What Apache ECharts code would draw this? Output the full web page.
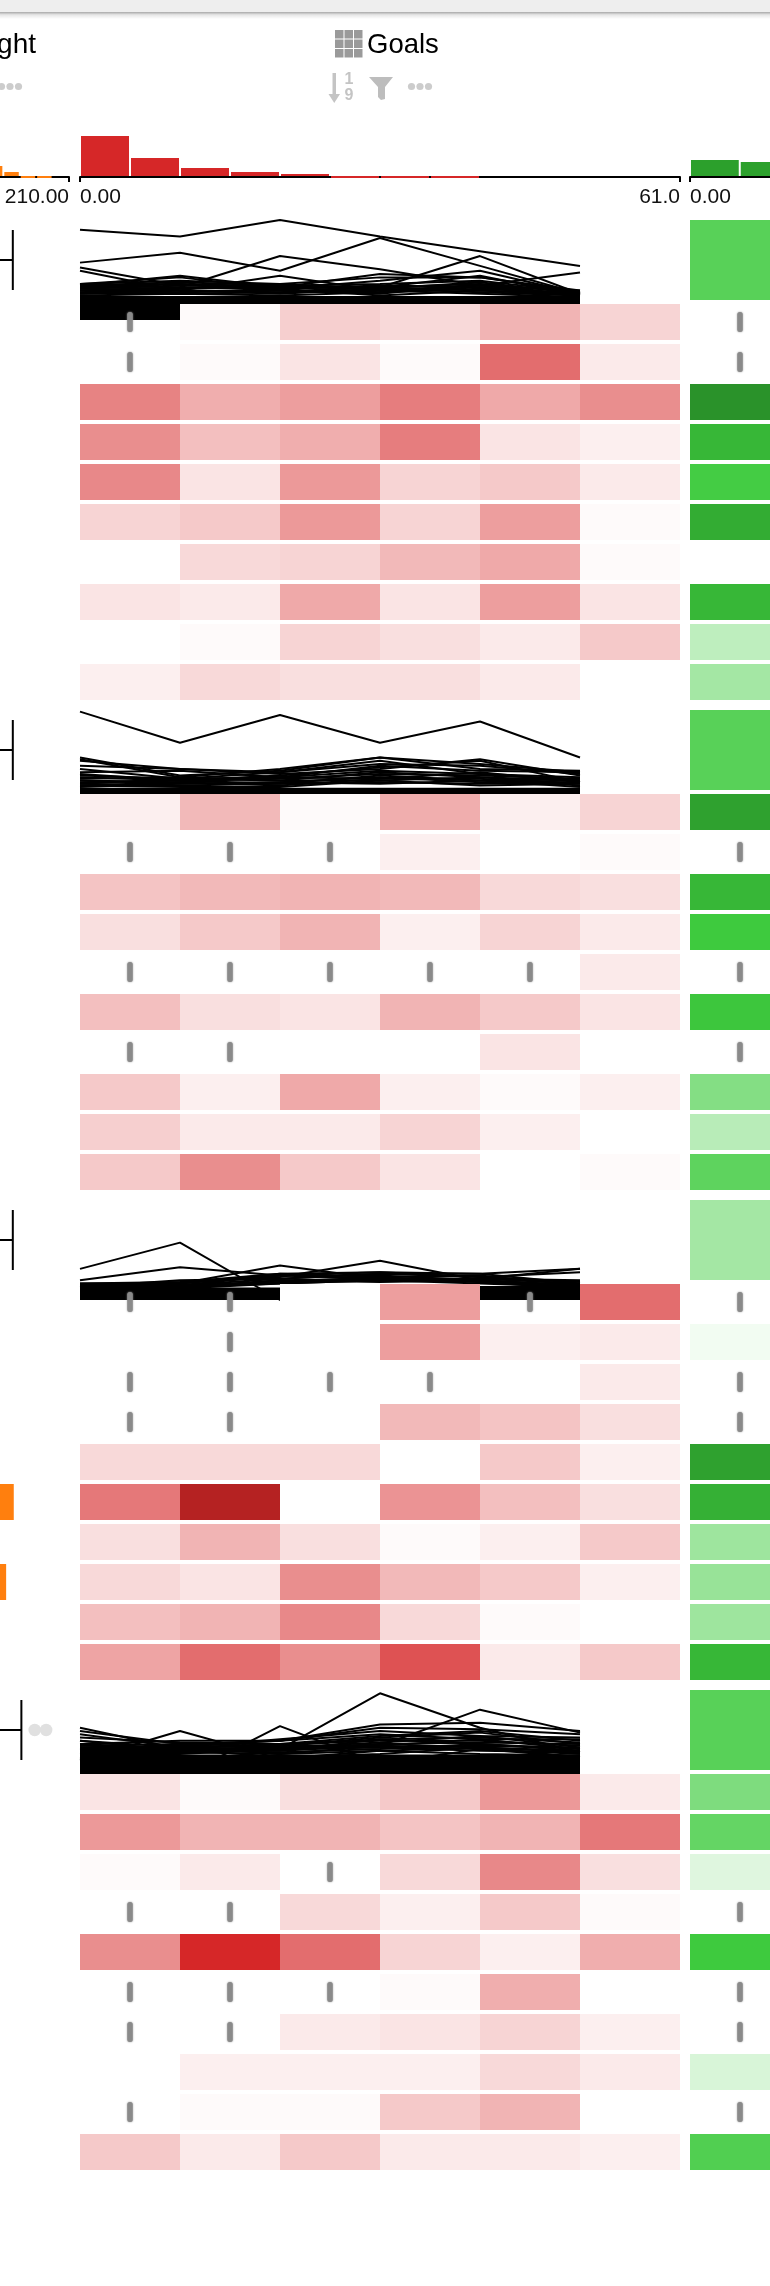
<!DOCTYPE html>
<html>
<head>
<meta charset="utf-8">
<style>html,body{margin:0;padding:0;background:#fff;overflow:hidden;width:770px;height:2286px}#c{position:absolute;left:-131px;top:0;width:1421px;height:2286px}</style>
<script src="https://cdn.jsdelivr.net/npm/echarts@6/dist/echarts.min.js"></script>
</head>
<body>
<div id="c"></div>
<script>
// ---------- data ----------
const columnTitles = ['Height', 'Goals'];
const heightTicks = ['0.00', '210.00'];
const goalTicks = ['0.00', '61.0'];
const greenTicks = ['0.00', ''];

const heightHist = [0, 0, 2, 6, 16, 30, 40, 12, 6, 2, 2, 0];
const goalHist = [42, 20, 10, 6, 4, 2, 2, 2, 0, 0, 0, 0];
const greenHist = [18, 16, 12, 8, 4, 2, 2, 0, 0, 0, 0, 0];

const goals1 = [
  [null, 1, 9, 7, 14, 8], [null, 1, 5, 1, 27, 4], [23, 15, 18, 24, 16, 21], [21, 12, 15, 24, 5, 3], [22, 5, 19, 8, 10, 4],
  [8, 10, 19, 8, 18, 1], [0, 7, 8, 13, 16, 1], [5, 4, 16, 5, 18, 5], [0, 1, 8, 6, 4, 10], [3, 7, 6, 6, 4, 0]
];
const goals2 = [
  [3, 13, 1, 15, 3, 8], [null, null, null, 3, 0, 1], [11, 13, 14, 13, 7, 6], [6, 10, 14, 3, 8, 4], [null, null, null, null, null, 4],
  [12, 6, 5, 14, 10, 5], [null, null, 0, 0, 5, 0], [10, 3, 16, 3, 1, 3], [9, 4, 4, 8, 3, 0], [10, 21, 10, 5, 0, 1]
];
const goals3 = [
  [null, null, 0, 18, null, 27], [0, null, 0, 18, 3, 4], [null, null, null, null, 0, 4], [null, null, 0, 13, 11, 6], [7, 7, 7, 0, 10, 3],
  [25, 48, 0, 20, 12, 6], [6, 14, 6, 1, 3, 10], [7, 5, 21, 13, 10, 3], [12, 14, 22, 7, 1, 0], [17, 27, 21, 32, 4, 10]
];
const goals4 = [
  [5, 1, 6, 10, 19, 4], [19, 14, 14, 11, 14, 25], [1, 4, null, 7, 22, 6], [null, null, 7, 3, 10, 1], [21, 40, 27, 8, 3, 15],
  [null, null, null, 1, 15, 0], [null, null, 4, 5, 8, 3], [0, 3, 3, 3, 7, 4], [null, 1, 1, 10, 14, 0], [10, 4, 10, 4, 4, 3]
];

const greenTop = [26, 26, 14, 26];
const green1 = [null, null, 45, 35, 29, 38, 0, 35, 10, 14];
const green2 = [41, null, 35, 30, null, 31, null, 19, 11, 25];
const green3 = [null, 2, null, null, 41, 37, 15, 16, 15, 35];
const green4 = [20, 24, 5, null, 30, null, null, 6, null, 27];

const heights3 = [null, null, null, null, null, 152, null, 144, null, null];

const box1 = [30, 70, 100, 125, 151];
const box2 = [30, 70, 100, 125, 151];
const box3 = [30, 70, 100, 125, 151];
const box4 = [35, 75, 105, 130, 160];
const outliers4 = [174, 186];

const lines1 = [
  [55,51,61,51,42,33],[35,41,30,50,33,16],[21,20,39,31,21,15],[32,21,20,20,39,16],[30,18,27,18,21,29],[21,27,20,28,26,17],
  [22,26,19,24,30,16],[22,24,22,26,26,18],[21,22,20,20,27,15],[21,23,21,22,24,17],[20,22,20,19,23,16],[19,21,21,20,22,15],
  [20,19,22,18,21,18],[18,20,19,21,20,16],[19,18,17,20,18,15],[17,19,20,17,19,16],[18,17,18,16,22,17],[16,18,16,19,17,15],
  [17,16,17,18,16,14],[16,17,19,15,18,16],[15,16,15,17,20,15]
];
const mass1 = [14, 14, 14, 14, 14, 14];
const lines2 = [
  [60,41,58,41,54,32],[32,21,24,32,28,23],[31,20,25,32,25,24],[30,25,22,25,31,21],[27,25,23,28,27,22],[25,19,23,30,22,18],
  [23,24,20,27,24,23],[22,18,21,26,30,17],[21,19,20,24,22,20],[20,18,19,22,21,19],[19,20,18,23,20,18],[18,17,20,19,23,17],
  [17,18,16,21,18,19],[16,19,18,18,20,16],[18,16,17,20,17,18],[15,17,15,19,19,15],[16,15,16,17,16,17],[14,16,17,16,18,14],[15,14,14,18,15,16]
];
const mass2 = [13, 13, 13, 13, 13, 13];
const lines3 = [
  [19,35,0,2,3,4],[12,20,15,13,13,19],[10,10,21,13,13,12],[9,11,14,24,12,6],[10,11,16,17,16,19],[9,9,15,17,14,17],
  [8,12,13,16,16,10],[9,10,15,15,12,8],[8,9,13,16,14,11],[7,10,16,14,15,9],[8,8,12,13,12,9],[7,9,11,14,11,8],
  [9,8,10,12,13,10],[8,7,12,11,12,9],[6,8,11,13,11,7],[7,7,10,12,10,8]
];
const mass3 = [7, 7, 7, 8, 8, 8];
const lines4 = [
  [30,24,25,59,38,23],[27,26,22,27,49,35],[20,8,39,16,25,20],[18,36,19,24,22,21],[38,25,20,22,26,20],[25,27,30,40,41,36],
  [36,28,30,38,37,34],[34,26,31,36,33,32],[32,29,28,33,36,30],[30,26,27,32,35,28],[28,30,30,34,31,31],[27,28,27,31,32,29],
  [26,26,28,30,30,27],[25,27,26,29,33,26],[28,25,25,28,29,28],[24,26,27,27,31,25],[26,24,24,31,28,24],[23,25,26,26,27,26],
  [25,23,25,28,26,23],[24,24,23,25,28,25],[22,25,24,27,25,22],[23,23,22,24,26,24],[22,22,25,26,24,23]
];
const mass4 = [21, 21, 21, 21, 21, 21];

const redStops = ['#ffffff', '#f7d4d4', '#efa9a9', '#e67d7e', '#de5253', '#d62728', '#b52222'];
const greenStops = ['#ffffff', '#9ee59e', '#3eca3e', '#2a922a'];

// ---------- layout ----------
// The Height and green columns run past the window, so the canvas is wider than the page and shifted left by OX.
const OX = 131;
const groups = [
  { top: 220, goals: goals1, green: green1, lines: lines1, mass: mass1, box: box1 },
  { top: 710, goals: goals2, green: green2, lines: lines2, mass: mass2, box: box2 },
  { top: 1200, goals: goals3, green: green3, lines: lines3, mass: mass3, box: box3, heights: heights3 },
  { top: 1690, goals: goals4, green: green4, lines: lines4, mass: mass4, box: box4, outliers: outliers4 }
];
const FONT = '"Liberation Sans", Arial, sans-serif';
const grid = [], xAxis = [], yAxis = [], series = [];
const redIdx = [], greenIdx = [];

function addGrid(left, top, width, height) { grid.push({ left: left + OX, top, width, height, containLabel: false }); return grid.length - 1; }
function cat(n) { return Array.from({ length: n }, (_, i) => i); }

function cellRender(params, api) {
  const p = api.coord([api.value(0), api.value(1)]);
  const s = api.size([1, 1]);
  return { type: 'rect', shape: { x: p[0] - s[0] / 2, y: p[1] - s[1] / 2, width: s[0], height: s[1] - 4 }, style: { fill: api.visual('color') } };
}
function tickRender(params, api) {
  const p = api.coord([api.value(0), api.value(1)]);
  const cy = p[1] - 2;
  return { type: 'rect', shape: { x: p[0] - 2.75, y: cy - 10, width: 5.5, height: 20, r: 2.5 }, style: { fill: '#8a8a8a', shadowBlur: 2, shadowColor: '#999' } };
}
function barRender(params, api) {
  const p0 = api.coord([0, api.value(1)]);
  const p1 = api.coord([api.value(0), api.value(1)]);
  const s = api.size([1, 1]);
  return { type: 'rect', shape: { x: p0[0], y: p0[1] - s[1] / 2, width: p1[0] - p0[0], height: s[1] - 4 }, style: { fill: '#ff7f0e' } };
}

function addCells(g, rows, stopsIdx) {
  const cells = [], missing = [];
  rows.forEach((r, ri) => r.forEach((v, ci) => { if (v === null) missing.push([ci, ri]); else cells.push([ci, ri, v]); }));
  series.push({ type: 'custom', coordinateSystem: 'cartesian2d', xAxisIndex: g, yAxisIndex: g, z: 5, silent: true, renderItem: cellRender, encode: { x: 0, y: 1 }, data: cells });
  stopsIdx.push(series.length - 1);
  series.push({ type: 'custom', coordinateSystem: 'cartesian2d', xAxisIndex: g, yAxisIndex: g, z: 6, silent: true, renderItem: tickRender, encode: { x: 0, y: 1 }, data: missing });
}

groups.forEach((G, gi) => {
  const rowsTop = G.top + 84;
  let g = addGrid(80, G.top, 500, 100);
  xAxis.push({ type: 'category', gridIndex: g, data: cat(6), boundaryGap: false, show: false });
  yAxis.push({ type: 'value', gridIndex: g, min: 0, max: 61, show: false });
  series.push({ type: 'line', xAxisIndex: g, yAxisIndex: g, data: G.mass, symbol: 'none', clip: false, silent: true, z: 1, lineStyle: { color: '#000', width: 2 }, areaStyle: { color: '#000', opacity: 1 } });
  G.lines.forEach(l => series.push({ type: 'line', xAxisIndex: g, yAxisIndex: g, data: l, symbol: 'none', clip: false, silent: true, z: 1, lineStyle: { color: '#000', width: 2 } }));

  g = addGrid(80, rowsTop, 600, 400);
  xAxis.push({ type: 'category', gridIndex: g, data: cat(6), show: false });
  yAxis.push({ type: 'category', gridIndex: g, data: cat(10), inverse: true, show: false });
  addCells(g, G.goals, redIdx);

  g = addGrid(690, rowsTop, 100, 400);
  xAxis.push({ type: 'category', gridIndex: g, data: cat(1), show: false });
  yAxis.push({ type: 'category', gridIndex: g, data: cat(10), inverse: true, show: false });
  addCells(g, G.green.map(v => [v]), greenIdx);

  g = addGrid(690, G.top, 100, 84);
  xAxis.push({ type: 'category', gridIndex: g, data: cat(1), show: false });
  yAxis.push({ type: 'category', gridIndex: g, data: cat(1), inverse: true, show: false });
  addCells(g, [[greenTop[gi]]], greenIdx);

  g = addGrid(-131, G.top, 200, 80);
  xAxis.push({ type: 'value', gridIndex: g, min: 0, max: 210, show: false });
  yAxis.push({ type: 'category', gridIndex: g, data: cat(1), show: false });
  series.push({ type: 'boxplot', xAxisIndex: g, yAxisIndex: g, silent: true, boxWidth: [60, 60], z: 3, itemStyle: { color: 'transparent', borderColor: '#000', borderWidth: 2 }, data: [G.box] });
  if (G.outliers) {
    series.push({ type: 'scatter', xAxisIndex: g, yAxisIndex: g, silent: true, z: 3, symbolSize: 12.5, itemStyle: { color: '#e0e0e0', opacity: 1 }, data: G.outliers.map(v => [v, 0]) });
  }

  if (G.heights) {
    g = addGrid(-131, rowsTop, 200, 400);
    xAxis.push({ type: 'value', gridIndex: g, min: 0, max: 210, show: false });
    yAxis.push({ type: 'category', gridIndex: g, data: cat(10), inverse: true, show: false });
    const data = [];
    G.heights.forEach((v, i) => { if (v !== null) data.push([v, i]); });
    series.push({ type: 'custom', coordinateSystem: 'cartesian2d', xAxisIndex: g, yAxisIndex: g, z: 5, silent: true, renderItem: barRender, encode: { x: 0, y: 1 }, data });
  }
});

function addHist(left, width, values, color, max, ticks, gap) {
  const g = addGrid(left, 136, width, 42);
  const base = xAxis.length;
  yAxis.push({ type: 'value', gridIndex: g, min: 0, max: 42, show: false });
  const yi = yAxis.length - 1;
  xAxis.push({ type: 'category', gridIndex: g, data: cat(values.length), show: false });
  xAxis.push({
    type: 'value', gridIndex: g, position: 'bottom', min: 0, max, interval: max, offset: -1, z: 3,
    splitLine: { show: false },
    axisLine: { show: true, onZero: false, lineStyle: { color: '#000', width: 2 } },
    axisTick: { show: true, length: 5, lineStyle: { color: '#000', width: 2 } },
    axisLabel: {
      show: true, color: '#111', fontFamily: FONT, fontSize: 21, margin: 10, showMinLabel: true, showMaxLabel: true, hideOverlap: false,
      alignMinLabel: 'left', alignMaxLabel: 'right',
      formatter: v => (v === 0 ? ticks[0] : ticks[1])
    }
  });
  const tall = values.map(v => (v > 2 ? v : 0));
  const tiny = values.map(v => (v <= 2 ? v : 0));
  series.push({ type: 'bar', xAxisIndex: base, yAxisIndex: yi, data: tall, barCategoryGap: gap, itemStyle: { color }, z: 2, silent: true });
  series.push({ type: 'bar', xAxisIndex: base, yAxisIndex: yi, data: tiny, barCategoryGap: gap, barGap: '-100%', itemStyle: { color }, z: 4, silent: true });
}
addHist(-131, 200, heightHist, '#ff7f0e', 210, heightTicks, '12%');
addHist(80, 600, goalHist, '#d62728', 61, goalTicks, '4%');
addHist(690, 600, greenHist, '#2ca02c', 60, greenTicks, '4%');

// ---------- header furniture ----------
const head = [];
head.push({ type: 'rect', shape: { x: 0, y: 0, width: 770, height: 12 }, style: { fill: '#eeeeee' }, z: 20, silent: true });
head.push({ type: 'rect', shape: { x: 0, y: 12, width: 770, height: 7 }, z: 20, silent: true,
  style: { fill: new echarts.graphic.LinearGradient(0, 0, 0, 1, [{ offset: 0, color: '#a8a8a8' }, { offset: 0.4, color: '#e6e6e6' }, { offset: 1, color: '#ffffff' }]) } });
head.push({ type: 'text', x: 36, y: 45, z: 20, silent: true, style: { text: columnTitles[0], fill: '#000', font: '28px ' + FONT, textAlign: 'right', textVerticalAlign: 'middle' } });
head.push({ type: 'text', x: 367, y: 45, z: 20, silent: true, style: { text: columnTitles[1], fill: '#000', font: '27.5px ' + FONT, textAlign: 'left', textVerticalAlign: 'middle' } });
[0, 1, 2].forEach(i => [0, 1, 2].forEach(j => head.push({ type: 'rect', silent: true, z: 20, shape: { x: 335 + i * 9.5, y: 30 + j * 9.5, width: 8.5, height: 8.5 }, style: { fill: '#9a9a9a' } })));
head.push({ type: 'rect', silent: true, z: 20, shape: { x: 332.5, y: 73, width: 3.5, height: 24 }, style: { fill: '#c4c4c4' } });
head.push({ type: 'polygon', silent: true, z: 20, shape: { points: [[328.5, 94], [340, 94], [334.25, 103]] }, style: { fill: '#c4c4c4' } });
head.push({ type: 'text', silent: true, z: 20, x: 349, y: 80, style: { text: '1', fill: '#c4c4c4', font: 'bold 16px ' + FONT, textAlign: 'center', textVerticalAlign: 'middle' } });
head.push({ type: 'text', silent: true, z: 20, x: 349, y: 96, style: { text: '9', fill: '#c4c4c4', font: 'bold 16px ' + FONT, textAlign: 'center', textVerticalAlign: 'middle' } });
head.push({ type: 'polygon', silent: true, z: 20, shape: { points: [[369, 77], [393, 77], [385, 87], [385, 99], [381, 100], [378, 97], [378, 87]] }, style: { fill: '#bdbdbd' } });
[411.5, 420, 428.5, 1.5, 10, 18.5].forEach(x => head.push({ type: 'circle', silent: true, z: 20, shape: { cx: x, cy: 86.5, r: 3.6 }, style: { fill: '#cccccc' } }));
const graphic = [{ type: 'group', x: OX, y: 0, children: head }];

const chart = echarts.init(document.getElementById('c'), null, { renderer: 'canvas', width: 1421, height: 2286 });
chart.setOption({
  animation: false,
  backgroundColor: '#ffffff',
  grid, xAxis, yAxis, series, graphic,
  visualMap: [
    { type: 'continuous', show: false, min: 0, max: 48, dimension: 2, seriesIndex: redIdx, inRange: { color: redStops } },
    { type: 'continuous', show: false, min: 0, max: 45, dimension: 2, seriesIndex: greenIdx, inRange: { color: greenStops } }
  ]
});
</script>
</body>
</html>
